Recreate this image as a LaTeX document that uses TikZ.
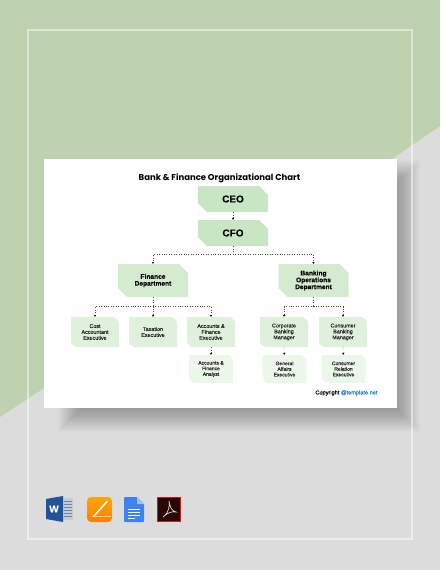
\documentclass[tikz,border=0pt]{standalone}
\usepackage{xcolor}
\usepackage{fontspec}
\setmainfont{Liberation Sans}
\newfontfamily\titlefont{Poppins}
\newfontfamily\mediumfont[FakeBold=0.05]{Liberation Sans}
\newfontfamily\deptfont[BoldFont={Liberation Sans Bold},FakeBold=0.1]{Liberation Sans Bold}
\usetikzlibrary{arrows.meta, positioning, calc}
\definecolor{bggreen}{RGB}{191, 210, 176}
\definecolor{bggray}{RGB}{220, 220, 220}
\definecolor{boxa}{RGB}{200, 230, 196}
\definecolor{boxb}{RGB}{213, 235, 208}
\definecolor{boxc}{RGB}{223, 240, 220}
\definecolor{boxd}{RGB}{235, 247, 232}
\definecolor{wordblue}{RGB}{36, 82, 152}
\definecolor{docsblue}{RGB}{62, 130, 240}
\definecolor{pdfdark}{RGB}{42, 6, 6}
\definecolor{pdfred}{RGB}{190, 30, 30}
\definecolor{linkblue}{RGB}{30, 120, 210}
\tikzset{
    cutbox/.style 2 args={inner sep=0pt, align=center, text=black,
        path picture={
            \fill[#1] (path picture bounding box.north west)
                -- ($(path picture bounding box.north east)+(-#2,0)$)
                -- ($(path picture bounding box.north east)+(0,#2)$)
                -- (path picture bounding box.south east)
                -- ($(path picture bounding box.south west)+(#2,0)$)
                -- ($(path picture bounding box.south west)+(0,-#2)$) -- cycle;
        }},
    topbox/.style={cutbox={boxa}{9}, minimum width=70pt, minimum height=26pt,
        font=\deptfont\fontsize{10}{12}\selectfont},
    deptbox/.style={cutbox={boxb}{9}, minimum width=70pt, minimum height=33pt,
        font=\deptfont\fontsize{6.6}{6.9}\selectfont},
    staffbox/.style={cutbox={boxc}{4.5}, minimum width=48pt, minimum height=30pt,
        text=black!85, font=\mediumfont\fontsize{5.4}{5.9}\selectfont},
    juniorbox/.style={cutbox={boxd}{4.5}, minimum width=44pt, minimum height=28pt,
        text=black!85, font=\mediumfont\fontsize{5}{5.6}\selectfont},
    orglink/.style={dotted, line width=0.45pt, black!70, -{Stealth[length=2pt,width=2.4pt,black]}},
    orgline/.style={dotted, line width=0.45pt, black!70}
}
\begin{document}
\begin{tikzpicture}[x=1pt, y=-1pt]
    \useasboundingbox (0,0) rectangle (440,570);
    % background
    \fill[bggray] (0,0) rectangle (440,570);
    % page shadow
    \foreach \s in {0,...,22} {
        \fill[black, opacity=0.012] ($(58,160)+(\s,\s)$) rectangle ($(420,432)-(\s,\s)$);
    }
    \fill[bggreen] (0,0) -- (440,0) -- (440,126) -- (392,159) -- (44,159) -- (44,388) -- (0,417) -- cycle;
    \draw[white, opacity=0.5, line width=1.6pt] (28,30) rectangle (412,539);
    \fill[white] (44,159) rectangle (397,408);
    % title
    \node[font=\titlefont\fontsize{8.5}{10}\selectfont\bfseries] (title) at (219.5,178) {Bank \& Finance Organizational Chart};
    % boxes
    \node[topbox] (ceo) at (233,199) {CEO};
    \node[topbox] (cfo) at (233,233) {CFO};
    \node[deptbox] (finance) at (153,280.5) {Finance\\Department};
    \node[deptbox] (banking) at (313.5,280.5) {Banking\\Operations\\Department};
    \node[staffbox] (cost) at (95,332) {Cost\\Accountant\\Executive};
    \node[staffbox] (taxation) at (153,332) {Taxation\\Executive};
    \node[staffbox] (accounts) at (211,332) {Accounts \&\\Finance\\Executive};
    \node[staffbox] (corporate) at (284,332) {Corporate\\Banking\\Manager};
    \node[staffbox] (consumer) at (343,332) {Consumer\\Banking\\Manager};
    \node[juniorbox] (analyst) at (211,369) {Accounts \&\\Finance\\Analyst};
    \node[juniorbox] (general) at (284.5,369) {General\\Affairs\\Executive};
    \node[juniorbox] (relation) at (343.5,369) {Consumer\\Relation\\Executive};
    \node[anchor=east, font=\mediumfont\fontsize{5.6}{7}\selectfont] (copyright) at (381,393) {Copyright \textcolor{linkblue}{@template.net}};
    % connectors
    \coordinate (topbus) at (233,254.5);
    \coordinate (finbus) at (153,306.5);
    \coordinate (bankbus) at (313.5,306.5);
    \draw[orglink] (ceo) -- (cfo);
    \draw[orgline] (cfo) -- (topbus);
    \draw[orglink] (topbus) -| (finance);
    \draw[orglink] (topbus) -| (banking);
    \draw[orgline] (finance) -- (finbus);
    \draw[orglink] (finbus) -| (cost);
    \draw[orglink] (finbus) -- (taxation);
    \draw[orglink] (finbus) -| (accounts);
    \draw[orgline] (banking) -- (bankbus);
    \draw[orglink] (bankbus) -| (corporate);
    \draw[orglink] (bankbus) -| (consumer);
    \draw[orglink] (accounts) -- (analyst);
    \draw[orglink] (corporate) -- (general);
    \draw[orglink] (consumer) -- (relation);
    % word icon
    \fill[black!20] (62,498) rectangle (73,520);
    \foreach \y in {501,504,507,510,513,516} {
        \draw[wordblue!70!white, line width=0.8pt] (64,\y) -- (72,\y);
    }
    \fill[wordblue] (46,499) -- (63,496) -- (63,522) -- (46,519) -- cycle;
    \node[white, font=\deptfont\fontsize{10}{10}\selectfont] (wordmark) at (54,509) {W};
    % pages icon
    \shade[rounded corners=4pt, top color=orange!70!yellow, bottom color=orange] (87,497) rectangle (112,522);
    \draw[white!60!orange, line width=1pt] (92,516) -- (111,516);
    \draw[white, line width=1.4pt, line cap=round] (94,516) -- (107,501.5);
    % docs icon
    \fill[docsblue, rounded corners=1pt] (124,497) -- (137,497) -- (144,504) -- (144,522) -- (124,522) -- cycle;
    \fill[docsblue!50!white] (137,497) -- (144,504) -- (137,504) -- cycle;
    \foreach \y in {509,512,515} {
        \draw[white, line width=0.9pt] (128,\y) -- (140,\y);
    }
    \draw[white, line width=0.9pt] (128,518) -- (135,518);
    % pdf icon
    \fill[pdfdark, draw=pdfred, line width=0.8pt] (157.5,497.5) rectangle (180.5,521.5);
    \draw[black!15, line width=0.7pt] (163,517) .. controls (169,513) and (170,505) .. (169,501) .. controls (170,508) and (172,511) .. (176,512) .. controls (172,511) and (167,513) .. (163,517);
\end{tikzpicture}
\end{document}
